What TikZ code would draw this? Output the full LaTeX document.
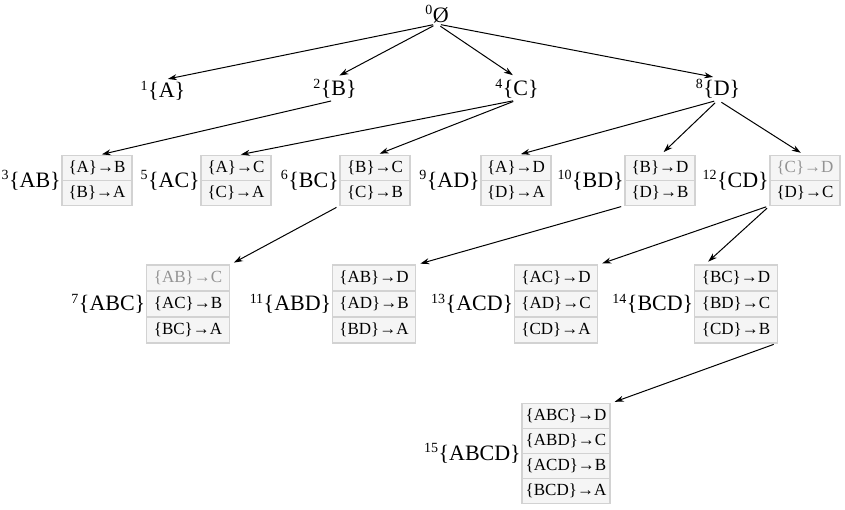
\documentclass[tikz,border=0pt]{standalone}
\usepackage{fontspec}
\setmainfont{Liberation Serif}
\usetikzlibrary{positioning,arrows.meta}
\tikzset{
	cell/.style={draw=gray!35,fill=gray!8,line width=1.1pt,inner sep=0pt,outer sep=0pt,minimum height=25pt,font=\fontsize{17}{17}\selectfont},
	setlabel/.style={inner sep=1pt,font=\fontsize{22}{22}\selectfont},
	faded/.style={text=gray!85},
	edge/.style={-{Stealth[length=9pt,width=6pt]},line width=1pt,shorten >=5pt,shorten <=4pt}
}
\newcommand{\sub}[1]{\textsuperscript{\fontsize{14}{14}\selectfont #1}}

\begin{document}
\begin{tikzpicture}[x=1pt,y=-1pt]
	\useasboundingbox (0,0) rectangle (845,509);
	% root and singletons
	\node [setlabel] (e) at (437,14) {\sub{0}Ø};
	\node [setlabel] (a) at (163,91) {\sub{1}\{A\}};
	\node [setlabel] (b) at (335,89) {\sub{2}\{B\}};
	\node [setlabel] (c) at (517,89) {\sub{4}\{C\}};
	\node [setlabel] (d) at (718,89) {\sub{8}\{D\}};
	
	% pairs
	\foreach \n/\x/\p/\q/\fa in {ab/97/\{A\}→B/\{B\}→A/, ac/236/\{A\}→C/\{C\}→A/, bc/375/\{B\}→C/\{C\}→B/, ad/516/\{A\}→D/\{D\}→A/, bd/660/\{B\}→D/\{D\}→B/, cd/805/\{C\}→D/\{D\}→C/faded} {
		\node [cell,minimum width=70pt,\fa] (\n1) at (\x,168) {\p};
		\node [cell,minimum width=70pt,below=0pt of \n1] (\n2) {\q};
	}
	\node [setlabel,anchor=east] (ablab) at (ab1.south west) {\sub{3}\{AB\}};
	\node [setlabel,anchor=east] (aclab) at (ac1.south west) {\sub{5}\{AC\}};
	\node [setlabel,anchor=east] (bclab) at (bc1.south west) {\sub{6}\{BC\}};
	\node [setlabel,anchor=east] (adlab) at (ad1.south west) {\sub{9}\{AD\}};
	\node [setlabel,anchor=east] (bdlab) at (bd1.south west) {\sub{10}\{BD\}};
	\node [setlabel,anchor=east] (cdlab) at (cd1.south west) {\sub{12}\{CD\}};
	
	% triples
	\foreach \n/\x/\p/\q/\r/\fa in {abc/188/\{AB\}→C/\{AC\}→B/\{BC\}→A/faded, abd/374/\{AB\}→D/\{AD\}→B/\{BD\}→A/, acd/556/\{AC\}→D/\{AD\}→C/\{CD\}→A/, bcd/736/\{BC\}→D/\{BD\}→C/\{CD\}→B/} {
		\node [cell,minimum width=83pt,minimum height=26pt,\fa] (\n1) at (\x,278) {\p};
		\node [cell,minimum width=83pt,minimum height=26pt,below=0pt of \n1] (\n2) {\q};
		\node [cell,minimum width=83pt,minimum height=26pt,below=0pt of \n2] (\n3) {\r};
	}
	\node [setlabel,anchor=east] (abclab) at (abc2.west) {\sub{7}\{ABC\}};
	\node [setlabel,anchor=east] (abdlab) at (abd2.west) {\sub{11}\{ABD\}};
	\node [setlabel,anchor=east] (acdlab) at (acd2.west) {\sub{13}\{ACD\}};
	\node [setlabel,anchor=east] (bcdlab) at (bcd2.west) {\sub{14}\{BCD\}};
	
	% full set
	\node [cell,minimum width=88pt] (abcd1) at (566,416) {\{ABC\}→D};
	\node [cell,minimum width=88pt,below=0pt of abcd1] (abcd2) {\{ABD\}→C};
	\node [cell,minimum width=88pt,below=0pt of abcd2] (abcd3) {\{ACD\}→B};
	\node [cell,minimum width=88pt,below=0pt of abcd3] (abcd4) {\{BCD\}→A};
	\node [setlabel,anchor=east] (abcdlab) at (abcd2.south west) {\sub{15}\{ABCD\}};
	
	% edges
	\foreach \t in {a,b,c,d} \draw [edge] (e.south) -- (\t.north);
	\draw [edge] (b.south) -- (ab1.north);
	\foreach \t in {ac,bc} \draw [edge] (c.south) -- (\t1.north);
	\foreach \t in {ad,bd,cd} \draw [edge] (d.south) -- (\t1.north);
	\draw [edge] (bc2.south west) -- (abc1.north east);
	\draw [edge] (bd2.south west) -- (abd1.north east);
	\draw [edge] (cd2.south west) -- (acd1.north east);
	\draw [edge] (cd2.south west) -- ([xshift=10pt]bcd1.north west);
	\draw [edge] (bcd3.south east) -- (abcd1.north east);
\end{tikzpicture}
\end{document}
